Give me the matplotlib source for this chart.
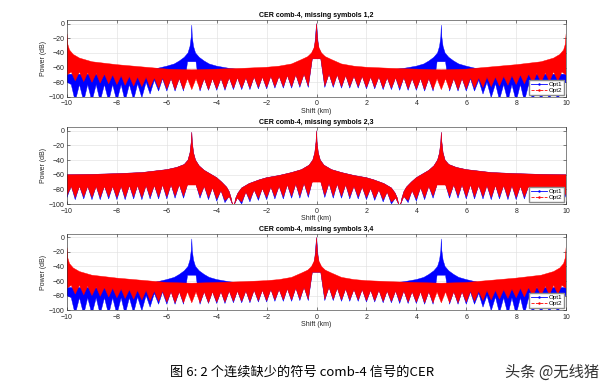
import numpy as np
import matplotlib.pyplot as plt
from matplotlib.lines import Line2D

# ---- data (dB vs shift in km) ----
TITLES = ['CER comb-4, missing symbols 1,2',
          'CER comb-4, missing symbols 2,3',
          'CER comb-4, missing symbols 3,4']
X_TICKS = [-10, -8, -6, -4, -2, 0, 2, 4, 6, 8, 10]
Y_TICKS = [-100, -80, -60, -40, -20, 0]

# x positions of the lower edge of the dense band (arch tops and nulls, 1/6 km apart)
FLOOR_X = [-10, -9.83, -9.67, -9.5, -9.33, -9.17,
           -9, -8.83, -8.67, -8.5, -8.33, -8.17,
           -8, -7.83, -7.67, -7.5, -7.33, -7.17,
           -7, -6.83, -6.67, -6.5, -6.33, -6.17,
           -6, -5.83, -5.67, -5.5, -5.33, -5.17,
           -5, -4.83, -4.67, -4.5, -4.33, -4.17,
           -4, -3.83, -3.67, -3.5, -3.33, -3.17,
           -3, -2.83, -2.67, -2.5, -2.33, -2.17,
           -2, -1.83, -1.67, -1.5, -1.33, -1.17,
           -1, -0.83, -0.67, -0.5, -0.33, -0.17,
           0, 0.17, 0.33, 0.5, 0.67, 0.83,
           1, 1.17, 1.33, 1.5, 1.67, 1.83,
           2, 2.17, 2.33, 2.5, 2.67, 2.83,
           3, 3.17, 3.33, 3.5, 3.67, 3.83,
           4, 4.17, 4.33, 4.5, 4.67, 4.83,
           5, 5.17, 5.33, 5.5, 5.67, 5.83,
           6, 6.17, 6.33, 6.5, 6.67, 6.83,
           7, 7.17, 7.33, 7.5, 7.67, 7.83,
           8, 8.17, 8.33, 8.5, 8.67, 8.83,
           9, 9.17, 9.33, 9.5, 9.67, 9.83,
           10]

# panels 1 and 3 (missing symbols 1,2 / 3,4)
P13_OPT1_ENV_X = [-10, -7.3, -7, -6.5, -6, -5.7, -5.5, -5.3, -5.15, -5.07, -5.02, -5,
                  -4.98, -4.93, -4.85, -4.7, -4.5, -4.3, -4, -3.5, -3, -2, -1, -0.5, -0.2, -0.08,
                  0,
                  0.08, 0.2, 0.5, 1, 2, 3, 3.5, 4, 4.3, 4.5, 4.7, 4.85, 4.93, 4.98,
                  5, 5.02, 5.07, 5.15, 5.3, 5.5, 5.7, 6, 6.5, 7, 7.3, 10]
P13_OPT1_ENV_Y = [-69, -69, -66, -62, -58, -55, -51, -46, -40, -31, -18, -2,
                  -18, -31, -40, -46, -51, -55, -58, -61, -63, -62, -58, -50, -42, -33,
                  0,
                  -33, -42, -50, -58, -62, -63, -61, -58, -55, -51, -46, -40, -31, -18,
                  -2, -18, -31, -40, -46, -51, -55, -58, -62, -66, -69, -69]
P13_OPT1_FLOOR = [-80, -83, -106, -83, -106, -83,
                  -106, -83, -106, -83, -106, -83,
                  -106, -83, -106, -83, -104, -82,
                  -101, -80, -96, -77, -92, -75,
                  -92, -74, -92, -74, -92, -52,
                  -52, -52, -92, -74, -91, -74,
                  -91, -74, -91, -73, -90, -73,
                  -90, -73, -90, -72, -89, -72,
                  -89, -71, -88, -71, -88, -70,
                  -88, -69, -87, -68, -87, -48,
                  -48, -48, -87, -68, -87, -69,
                  -88, -70, -88, -71, -88, -71,
                  -89, -72, -89, -72, -90, -73,
                  -90, -73, -91, -73, -91, -74,
                  -91, -74, -92, -74, -92, -52,
                  -52, -52, -92, -74, -92, -74,
                  -92, -75, -92, -77, -96, -80,
                  -101, -82, -104, -83, -106, -83,
                  -106, -83, -106, -83, -106, -83,
                  -106, -83, -106, -83, -106, -83,
                  -80]
P13_OPT2_ENV_X = [-10, -9.97, -9.9, -9.75, -9.5, -9, -8, -7, -6, -5, -4, -3, -2, -1.5, -1,
                  -0.6, -0.35, -0.2, -0.1, -0.04, 0, 0.04, 0.1, 0.2, 0.35, 0.6,
                  1, 1.5, 2, 3, 4, 5, 6, 7, 8, 9, 9.5, 9.75, 9.9, 9.97, 10]
P13_OPT2_ENV_Y = [-14, -28, -36, -42, -47, -52, -56, -59, -62, -63, -62, -61, -59.5, -58, -55,
                  -49, -45, -40, -33, -22, 0, -22, -33, -40, -45, -49,
                  -55, -58, -59.5, -61, -62, -63, -62, -59, -56, -52, -47, -42, -36, -28, -14]
P13_OPT2_FLOOR = [-70, -66, -78, -66, -79, -67,
                  -80, -68, -81, -69, -82, -70,
                  -83, -71, -84, -72, -85, -73,
                  -86, -73, -87, -74, -88, -74,
                  -89, -75, -90, -75, -90, -75,
                  -90, -75, -90, -75, -90, -75,
                  -89, -75, -89, -74, -88, -74,
                  -88, -74, -88, -73, -87, -73,
                  -87, -72, -86, -72, -86, -71,
                  -86, -70, -85, -69, -85, -48,
                  -48, -48, -85, -69, -85, -70,
                  -86, -71, -86, -72, -86, -72,
                  -87, -73, -87, -73, -88, -74,
                  -88, -74, -88, -74, -89, -75,
                  -89, -75, -90, -75, -90, -75,
                  -90, -75, -90, -75, -90, -75,
                  -89, -74, -88, -74, -87, -73,
                  -86, -73, -85, -72, -84, -71,
                  -83, -70, -82, -69, -81, -68,
                  -80, -67, -79, -66, -78, -66,
                  -70]

# panel 2 (missing symbols 2,3): both options nearly coincide
P2_ENV_X = [-10, -9, -8, -7, -6.5, -6, -5.6, -5.3, -5.15, -5.07, -5.02, -5,
            -4.98, -4.93, -4.85, -4.7, -4.5, -4.2, -4, -3.8, -3.6, -3.5, -3.42, -3.36,
            -3.3, -3.24, -3.15, -3, -2.7, -2.3, -2, -1.5, -1, -0.6, -0.3, -0.15, -0.07, -0.02,
            0,
            0.02, 0.07, 0.15, 0.3, 0.6, 1, 1.5, 2, 2.3, 2.7, 3, 3.15, 3.24, 3.3,
            3.36, 3.42, 3.5, 3.6, 3.8, 4, 4.2, 4.5, 4.7, 4.85, 4.93, 4.98,
            5, 5.02, 5.07, 5.15, 5.3, 5.6, 6, 6.5, 7, 8, 9, 10]
P2_ENV_Y = [-60, -59.5, -58.5, -57, -55, -53, -50, -46, -40, -30, -15, -2,
            -15, -30, -40, -48, -54, -60, -64, -70, -77, -83, -92, -102,
            -102, -92, -85, -78, -72, -67, -64, -61, -57, -53, -47, -40, -30, -15,
            0,
            -15, -30, -40, -47, -53, -57, -61, -64, -67, -72, -78, -85, -92, -102,
            -102, -92, -83, -77, -70, -64, -60, -54, -48, -40, -30, -15,
            -2, -15, -30, -40, -46, -50, -53, -55, -57, -58.5, -59.5, -60]
P2_OPT1_FLOOR = [-91, -75, -94, -75, -93, -75,
                 -94, -75, -94, -75, -93, -75,
                 -94, -75, -94, -74, -93, -74,
                 -94, -74, -93, -74, -93, -73,
                 -93, -73, -92, -73, -92, -73,
                 -73, -73, -92, -75, -94, -77,
                 -96, -81, -98, -89, -104, -91,
                 -100, -83, -97, -80, -95, -78,
                 -94, -76, -93, -75, -93, -73,
                 -92, -72, -92, -71, -91, -69,
                 -69, -69, -91, -71, -92, -72,
                 -92, -73, -93, -75, -93, -76,
                 -94, -78, -95, -80, -97, -83,
                 -100, -91, -104, -89, -98, -81,
                 -96, -77, -94, -75, -92, -73,
                 -73, -73, -92, -73, -92, -73,
                 -93, -73, -93, -74, -93, -74,
                 -94, -74, -93, -74, -94, -74,
                 -94, -75, -93, -75, -94, -75,
                 -94, -75, -93, -75, -94, -75,
                 -91]
P2_OPT2_FLOOR = [-88, -76, -91, -76, -90, -76,
                 -91, -76, -91, -76, -90, -76,
                 -91, -76, -91, -75, -90, -75,
                 -91, -75, -90, -75, -90, -74,
                 -90, -74, -89, -74, -89, -74,
                 -74, -74, -89, -76, -91, -78,
                 -93, -82, -95, -90, -102, -92,
                 -97, -84, -94, -81, -92, -79,
                 -91, -77, -90, -76, -90, -74,
                 -89, -73, -89, -72, -88, -70,
                 -70, -70, -88, -72, -89, -73,
                 -89, -74, -90, -76, -90, -77,
                 -91, -79, -92, -81, -94, -84,
                 -97, -92, -102, -90, -95, -82,
                 -93, -78, -91, -76, -89, -74,
                 -74, -74, -89, -74, -89, -74,
                 -90, -74, -90, -75, -90, -75,
                 -91, -75, -90, -75, -91, -75,
                 -91, -76, -90, -76, -91, -76,
                 -91, -76, -90, -76, -91, -76,
                 -88]

PANELS = [
    (P13_OPT1_ENV_X, P13_OPT1_ENV_Y, P13_OPT1_FLOOR, P13_OPT2_ENV_X, P13_OPT2_ENV_Y, P13_OPT2_FLOOR),
    (P2_ENV_X, P2_ENV_Y, P2_OPT1_FLOOR, P2_ENV_X, P2_ENV_Y, P2_OPT2_FLOOR),
    (P13_OPT1_ENV_X, P13_OPT1_ENV_Y, P13_OPT1_FLOOR, P13_OPT2_ENV_X, P13_OPT2_ENV_Y, P13_OPT2_FLOOR),
]

CAPTION = '图 6: 2 个连续缺少的符号 comb-4 信号的CER'
WATERMARK = '头条 @无线猪'


def band(ax, env_x, env_y, floor_y, color):
    # dense trace drawn as the area between its upper envelope and the scalloped lower edge
    xs = np.concatenate([env_x, FLOOR_X[::-1]])
    ys = np.concatenate([env_y, floor_y[::-1]])
    ax.fill(xs, ys, color=color, lw=0.3, ec=color)


plt.rcParams['font.family'] = ['Liberation Sans', 'DejaVu Sans']
fig = plt.figure(figsize=(6.12, 3.91), dpi=100)

rects = [[0.1095, 0.752, 0.8155, 0.197],
         [0.1095, 0.478, 0.8155, 0.197],
         [0.1095, 0.207, 0.8155, 0.195]]

for rect, title, data in zip(rects, TITLES, PANELS):
    ax = fig.add_axes(rect)
    b_x, b_y, b_floor, r_x, r_y, r_floor = data
    band(ax, b_x, b_y, b_floor, '#0000ff')
    band(ax, r_x, r_y, r_floor, '#ff0000')

    ax.set_xlim(-10, 10)
    ax.set_ylim(-100, 5)
    ax.set_xticks(X_TICKS)
    ax.set_yticks(Y_TICKS)
    ax.grid(True, color='#dedede', lw=0.4)
    ax.set_axisbelow(True)
    ax.tick_params(direction='in', top=True, right=True, length=2, width=0.4,
                   labelsize=5, colors='#262626')
    ax.tick_params(axis='x', pad=2.5)
    ax.tick_params(axis='y', pad=2)
    for s in ax.spines.values():
        s.set_linewidth(0.4)
        s.set_color('#262626')
    ax.set_title(title, fontsize=5, fontweight='bold', pad=2)
    ax.set_xlabel('Shift (km)', fontsize=5, color='#262626', labelpad=0.5)
    ax.set_ylabel('Power (dB)', fontsize=5, color='#262626', labelpad=1)

    handles = [Line2D([], [], color='#0000ff', lw=0.6, marker='.', ms=1.5, label='Opt1'),
               Line2D([], [], color='#ff0000', lw=0.6, ls='--', marker='.', ms=1.5, label='Opt2')]
    ax.legend(handles=handles, loc='lower right', fontsize=4.5, handlelength=2.6,
              borderpad=0.25, labelspacing=0.15, handletextpad=0.3, fancybox=False,
              edgecolor='#8c8c8c', framealpha=1, borderaxespad=0.35)

fig.text(0.278, 0.049, CAPTION, fontsize=9.5, va='center', ha='left',
         family=['Noto Sans CJK SC', 'DejaVu Sans'])
fig.text(0.825, 0.049, WATERMARK, fontsize=11, va='center', ha='left', color='#333333',
         family=['Noto Sans CJK SC', 'DejaVu Sans'])

fig.savefig('out.png', dpi=100)
